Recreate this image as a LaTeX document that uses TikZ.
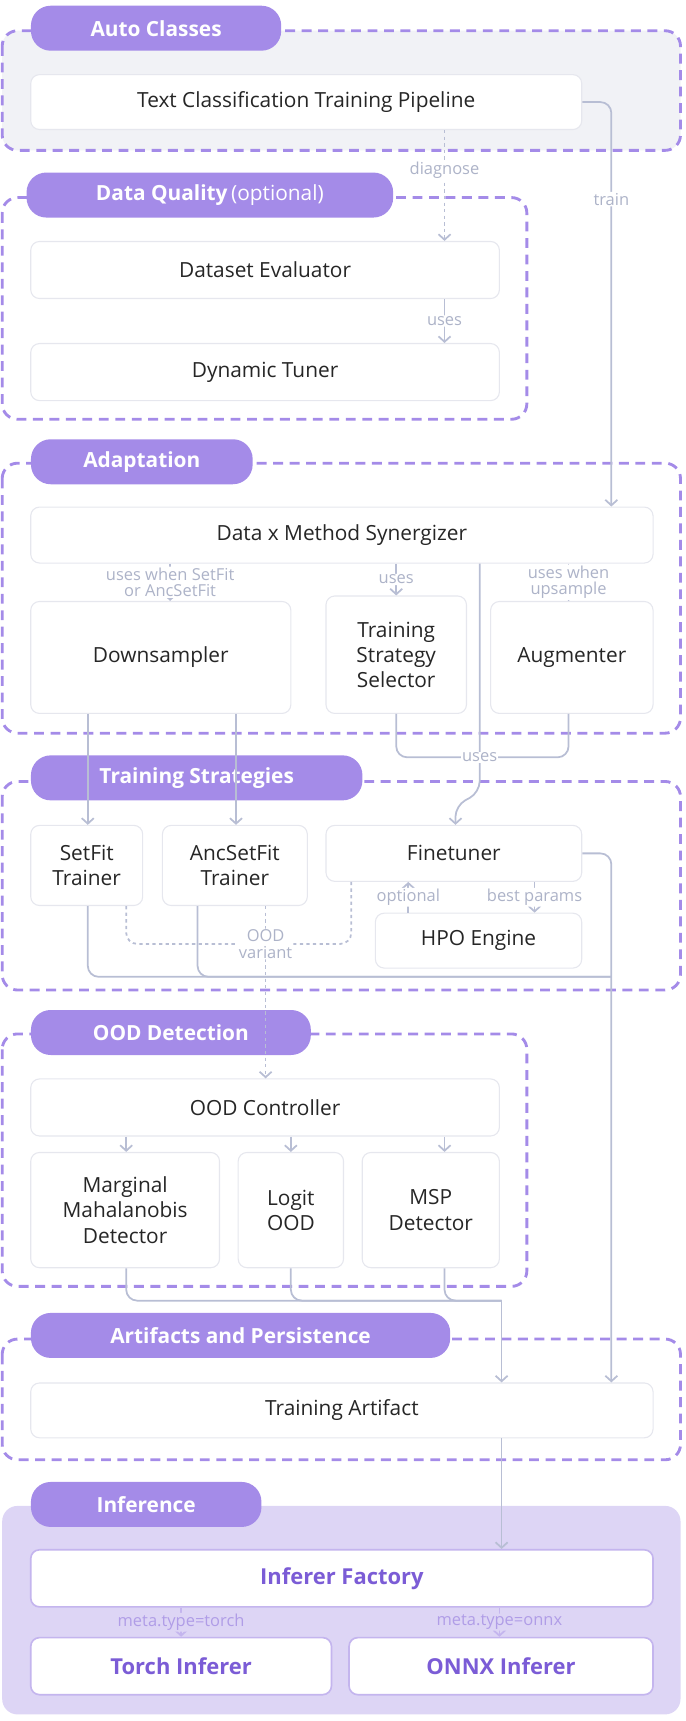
\documentclass[tikz,border=0pt]{standalone}
\usepackage{fontspec}
\setmainfont{Open Sans}
\usetikzlibrary{positioning, arrows.meta, calc}
\definecolor{pill}{HTML}{A48BE8}
\definecolor{panelgray}{HTML}{F1F2F6}
\definecolor{infbg}{HTML}{DDD5F5}
\definecolor{boxline}{HTML}{E6E7EE}
\definecolor{wire}{HTML}{B8BED4}
\definecolor{labtext}{HTML}{ADB3C8}
\definecolor{infline}{HTML}{C4B5EE}
\definecolor{inftext}{HTML}{7B5CD6}

\begin{document}
\begin{tikzpicture}[
        x=1pt, y=-1pt,
        panel/.style={draw=pill, line width=2.6pt, dash pattern=on 9pt off 6pt, rounded corners=14pt},
        header/.style={fill=pill, rounded corners=18pt, text=white, font=\fontsize{19}{22}\selectfont\bfseries, anchor=north west, inner xsep=30pt, minimum height=41pt},
        box/.style={draw=boxline, line width=1pt, fill=white, rounded corners=8pt, font=\fontsize{19}{23}\selectfont, align=center, text=black!85},
        infbox/.style={box, draw=infline, line width=1.5pt, text=inftext, font=\fontsize{20}{23}\selectfont\bfseries},
        wire/.style={draw=wire, line width=1.6pt, rounded corners=10pt},
        link/.style={wire, -{Straight Barb[length=5pt, width=11pt]}},
        dotlink/.style={link, dash pattern=on 3pt off 3pt},
        lab/.style={fill=white, text=labtext, font=\fontsize{15}{15}\selectfont, inner sep=1pt, align=center}
    ]
    \useasboundingbox (0,0) rectangle (625,1568);

    % panels
    \draw[panel, fill=panelgray] (2,28) rectangle (620,137);
    \draw[panel] (2,180) rectangle (480,382);
    \draw[panel] (2,422) rectangle (620,668);
    \draw[panel] (2,712) rectangle (620,902);
    \draw[panel] (2,942) rectangle (480,1172);
    \draw[panel] (2,1220) rectangle (620,1330);
    \fill[infbg, rounded corners=14pt] (2,1372) rectangle (620,1562);

    % headers
    \node[header, minimum width=228pt] (hauto) at (28,5) {Auto Classes};
    \node[header, minimum width=334pt] (hdata) at (24,157) {Data Quality\,\mdseries(optional)};
    \node[header, minimum width=202pt] (hadapt) at (28,400) {Adaptation};
    \node[header, minimum width=302pt] (htrain) at (28,688) {Training Strategies};
    \node[header, minimum width=255pt] (hood) at (28,920) {OOD Detection};
    \node[header, minimum width=382pt] (hart) at (28,1196) {Artifacts and Persistence};
    \node[header, minimum width=210pt] (hinf) at (28,1350) {Inference};

    % nodes
    \node[box, minimum width=502pt, minimum height=50pt] (pipeline) at (279,93) {Text Classification Training Pipeline};
    \node[box, minimum width=427pt, minimum height=52pt] (evaluator) at (241.5,246) {Dataset Evaluator};
    \node[box, minimum width=427pt, minimum height=52pt] (tuner) at (241.5,339) {Dynamic Tuner};
    \node[box, minimum width=567pt, minimum height=51pt] (synergizer) at (311.5,487.5) {Data x Method Synergizer};
    \node[box, minimum width=237pt, minimum height=102pt] (downsampler) at (146.5,599) {Downsampler};
    \node[box, minimum width=128pt, minimum height=107pt] (selector) at (361,596.5) {Training\\Strategy\\Selector};
    \node[box, minimum width=148pt, minimum height=102pt] (augmenter) at (521,599) {Augmenter};
    \node[box, minimum width=102pt, minimum height=73pt] (setfit) at (79,788.5) {SetFit\\Trainer};
    \node[box, minimum width=132pt, minimum height=73pt] (ancsetfit) at (214,788.5) {AncSetFit\\Trainer};
    \node[box, minimum width=233pt, minimum height=51pt] (finetuner) at (413.5,777.5) {Finetuner};
    \node[box, minimum width=188pt, minimum height=50pt] (hpo) at (436,857) {HPO Engine};
    \node[box, minimum width=427pt, minimum height=52pt] (oodctl) at (241.5,1009) {OOD Controller};
    \node[box, minimum width=172pt, minimum height=105pt] (mahal) at (114,1102.5) {Marginal\\Mahalanobis\\Detector};
    \node[box, minimum width=96pt, minimum height=105pt] (logit) at (265,1102.5) {Logit\\OOD};
    \node[box, minimum width=125pt, minimum height=105pt] (msp) at (392.5,1102.5) {MSP\\Detector};
    \node[box, minimum width=567pt, minimum height=50pt] (artifact) at (311.5,1285) {Training Artifact};
    \node[infbox, minimum width=567pt, minimum height=52pt] (factory) at (311.5,1438) {Inferer Factory};
    \node[infbox, minimum width=274pt, minimum height=52pt] (torch) at (165,1518) {Torch Inferer};
    \node[infbox, minimum width=277pt, minimum height=52pt] (onnx) at (456.5,1518) {ONNX Inferer};

    % joints and columns
    \coordinate (usesjoin) at (437,690);
    \coordinate (trainjoin) at (557,890);
    \coordinate (oodjoin) at (457,1185);
    \coordinate (variantjoin) at (242,860);
    \coordinate (bend) at (415,734);
    \coordinate (bendtop) at (437,722);
    \foreach \cx in {80,115,155,180,215,242,320,372,405,455,487,518}
        \coordinate (col\cx) at (\cx,0);

    % connectors
    \draw[dotlink] (col405 |- pipeline.south) -- (col405 |- evaluator.north) node[lab, pos=0.36] {diagnose};
    \draw[link] (col405 |- evaluator.south) -- (col405 |- tuner.north) node[lab, midway] {uses};
    \draw[link] (pipeline.east) -| (trainjoin |- synergizer.north) node[lab, pos=0.62] {train};
    \draw[link] (col155 |- synergizer.south) -- (col155 |- downsampler.north) node[lab, midway] {uses when SetFit\\or AncSetFit};
    \draw[link] (selector.north |- synergizer.south) -- (selector.north) node[lab, midway] {uses};
    \draw[link] (col518 |- synergizer.south) -- (col518 |- augmenter.north) node[lab, midway] {uses when\\upsample};
    \draw[wire] (selector.south) |- (usesjoin);
    \draw[wire] (col518 |- augmenter.south) |- (usesjoin);
    \draw[link] (usesjoin |- synergizer.south) -- (bendtop) -- (bend) -- (bend |- finetuner.north);
    \node[lab] at (usesjoin) {uses};
    \draw[link] (col80 |- downsampler.south) -- (col80 |- setfit.north);
    \draw[link] (col215 |- downsampler.south) -- (col215 |- setfit.north);
    \draw[link] (col372 |- hpo.north) -- (col372 |- finetuner.south) node[lab, midway] {optional};
    \draw[link] (col487 |- finetuner.south) -- (col487 |- hpo.north) node[lab, midway] {best params};
    \draw[wire, dash pattern=on 3pt off 3pt] (col115 |- setfit.south) |- (variantjoin);
    \draw[wire, dash pattern=on 3pt off 3pt] (col320 |- finetuner.south) |- (variantjoin);
    \draw[dotlink] (col242 |- ancsetfit.south) -- (col242 |- oodctl.north) node[lab, pos=0.22] {OOD\\variant};
    \draw[wire] (col80 |- setfit.south) |- (trainjoin);
    \draw[wire] (col180 |- setfit.south) |- (trainjoin);
    \draw[link] (finetuner.east) -| (trainjoin |- artifact.north);
    \draw[link] (col115 |- oodctl.south) -- (col115 |- mahal.north);
    \draw[link] (logit.north |- oodctl.south) -- (logit.north);
    \draw[link] (col405 |- oodctl.south) -- (col405 |- msp.north);
    \draw[wire] (col115 |- mahal.south) |- (oodjoin);
    \draw[wire] (logit.south) |- (oodjoin);
    \draw[wire] (col405 |- msp.south) |- (oodjoin);
    \draw[link] (oodjoin) -- (oodjoin |- artifact.north);
    \draw[link] (oodjoin |- artifact.south) -- (oodjoin |- factory.north);
    \draw[link, draw=infline] (torch.north |- factory.south) -- (torch.north) node[lab, fill=infbg, text=inftext!60, midway] {meta.type=torch};
    \draw[link, draw=infline] (col455 |- factory.south) -- (col455 |- onnx.north) node[lab, fill=infbg, text=inftext!60, midway] {meta.type=onnx};
\end{tikzpicture}
\end{document}
